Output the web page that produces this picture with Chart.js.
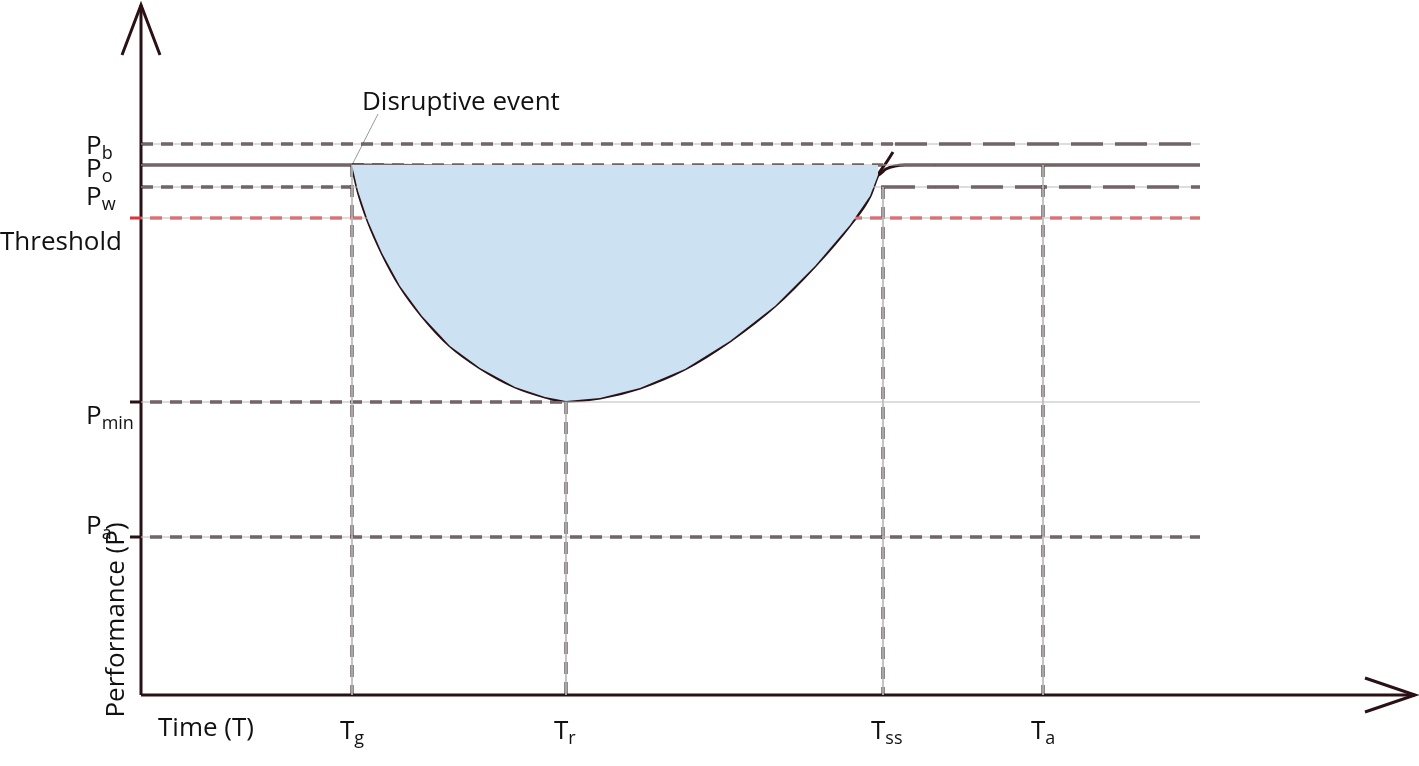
<!DOCTYPE html>
<html><head><meta charset="utf-8">
<script src="https://cdn.jsdelivr.net/npm/chart.js@4"></script>
<style>html,body{margin:0;padding:0;background:#fff}canvas{display:block}</style>
</head><body>
<canvas id="c" width="1419" height="766"></canvas>
<script>
// Levels (performance units)
const levelNames = ["Pb","Po","Pw","Threshold","Pmin","Pa"];
const levelValues = [622, 601, 579, 548, 364, 229];
// Time marks
const timeNames = ["Tg","Tr","Tss","Ta"];
const timeValues = [352, 566, 883, 1043];
const axisOrigin = [141, 71];
const axisEndX = 1415, axisEndY = 761;
// Performance curve after disruption
const curveX = [352,358,368,382,400,422,450,480,515,545,566,600,640,685,730,775,815,850,870,878,886,893];
const curveY = [601,575,545,513,480,450,420,398,379,369,365,368,378,397,425,460,500,541,570,591,603,614];
// Recovered steady line
const steadyX = [141,352, 878,886,895,905,1200];
const steadyY = [601,601, 591,597,600,601,601];
// Fill region (curve bounded by Po)
const fillX = [352,358,368,382,400,422,450,480,515,545,566,600,640,685,730,775,815,850,870,878];
const fillY = [601,575,545,513,480,450,420,398,379,369,365,368,378,397,425,460,500,541,570,591];

const dark = '#2a1115';
const pts = (xs, ys) => xs.map((x,i)=>({x, y: ys[i]}));
const seg = (x1,y1,x2,y2) => [{x:x1,y:y1},{x:x2,y:y2}];
const L = (data, color, width, dash, extra) => Object.assign({type:'line', data, borderColor:color, borderWidth:width, borderDash:dash||[], pointRadius:0, fill:false, tension:0}, extra||{});

const ds = [];
ds.push(L(pts(fillX,fillY),'rgba(0,0,0,0)',0,[],{fill:{value:levelValues[1]}, backgroundColor:'#cce2f2'}));
// faint grey guide lines
levelValues.forEach(v=>ds.push(L(seg(141,v,1200,v),'#bbbbbb',1)));
timeValues.forEach((t,i)=>ds.push(L(seg(t,i===1?levelValues[4]:(i===2?levelValues[2]:levelValues[1]),t,axisOrigin[1]),'#bbbbbb',1)));
// dashed levels
ds.push(L(seg(141,levelValues[0],895,levelValues[0]),dark,3,[12,8]));
ds.push(L(seg(895,levelValues[0],1200,levelValues[0]),dark,3,[32,12]));
ds.push(L(seg(352,levelValues[1],883,levelValues[1]),dark,3,[12,8]));
ds.push(L(seg(141,levelValues[2],883,levelValues[2]),dark,3,[12,8]));
ds.push(L(seg(883,levelValues[2],1200,levelValues[2]),dark,3,[32,12]));
ds.push(L(seg(130,levelValues[3],1200,levelValues[3]),'#e0323a',3,[12,8]));
ds.push(L(seg(130,levelValues[4],566,levelValues[4]),dark,3,[12,8]));
ds.push(L(seg(130,levelValues[5],1200,levelValues[5]),dark,3,[12,8]));
// vertical dashed
ds.push(L(seg(timeValues[0],levelValues[1],timeValues[0],axisOrigin[1]),dark,3,[12,8]));
ds.push(L(seg(timeValues[1],levelValues[4],timeValues[1],axisOrigin[1]),dark,3,[12,8]));
ds.push(L(seg(timeValues[2],levelValues[2],timeValues[2],axisOrigin[1]),dark,3,[12,8]));
ds.push(L(seg(timeValues[3],levelValues[1],timeValues[3],axisOrigin[1]),dark,3,[12,8]));
// curves
ds.push(L(pts(curveX,curveY),dark,3,[],{cubicInterpolationMode:'monotone'}));
ds.push(L(pts(steadyX,steadyY),dark,3,[],{cubicInterpolationMode:'monotone'}));
// leader line
ds.push(L(seg(352,601,378,652),'#999999',1));
// axes with arrows
ds.push(L(seg(141,axisOrigin[1],141,axisEndY),dark,3));
ds.push(L([{x:122,y:711},{x:141,y:761},{x:160,y:711}],dark,3));
ds.push(L(seg(141,axisOrigin[1],axisEndX,axisOrigin[1]),dark,3));
ds.push(L([{x:1365,y:88},{x:1415,y:71},{x:1365,y:54}],dark,3));

const FONT = '"Open Sans", "Liberation Sans", sans-serif';
const textPlugin = {id:'txt', afterDatasetsDraw(chart){
  const c = chart.ctx, xs = chart.scales.x, ys = chart.scales.y;
  const X = v=>xs.getPixelForValue(v), Y = v=>ys.getPixelForValue(v);
  c.save(); c.fillStyle = '#111'; c.textBaseline='alphabetic';
  function sub(main, s, x, y){
    c.font = '26px '+FONT; c.textAlign='left'; c.fillText(main,x,y);
    const w = c.measureText(main).width;
    c.font = '18px '+FONT; c.fillText(s,x+w,y+5);
  }
  sub('P','b',86,Y(levelValues[0])+10);
  sub('P','o',86,Y(levelValues[1])+12);
  sub('P','w',86,Y(levelValues[2])+18);
  c.font='26px '+FONT; c.fillText('Threshold',0,Y(levelValues[3])+32);
  sub('P','min',86,Y(levelValues[4])+22);
  sub('P','a',86,Y(levelValues[5])-3);
  sub('T','g',X(timeValues[0])-12,Y(axisOrigin[1])+44);
  sub('T','r',X(timeValues[1])-12,Y(axisOrigin[1])+44);
  sub('T','ss',X(timeValues[2])-12,Y(axisOrigin[1])+44);
  sub('T','a',X(timeValues[3])-12,Y(axisOrigin[1])+44);
  c.font='26px '+FONT; c.fillText('Time (T)',158,Y(axisOrigin[1])+41);
  c.fillText('Disruptive event',362,110);
  c.translate(124,620); c.rotate(-Math.PI/2); c.textAlign='center';
  c.fillText('Performance (P)',0,0);
  c.restore();
}};

new Chart(document.getElementById('c'),{
  data:{datasets:ds},
  options:{responsive:false, animation:false, devicePixelRatio:1,
    layout:{padding:0},
    plugins:{legend:{display:false}, tooltip:{enabled:false}},
    scales:{x:{type:'linear',min:0,max:1419,display:false},
            y:{type:'linear',min:0,max:766,display:false}}},
  plugins:[textPlugin]
});
</script>
</body></html>
